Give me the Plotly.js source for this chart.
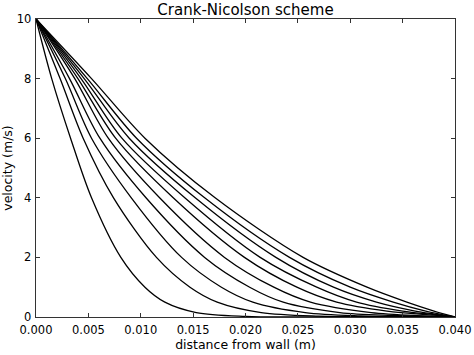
<!DOCTYPE html>
<html>
<head>
<meta charset="utf-8">
<script src="https://cdn.plot.ly/plotly-3.0.1.min.js"></script>
<style>html,body{margin:0;padding:0;background:#fff;}#chart{width:474px;height:355px;}</style>
</head>
<body>
<div id="chart"></div>
<script>
// velocity profiles (m/s) vs distance from wall (m)
const d1 = [0.000, 0.0015, 0.0033, 0.0053, 0.0081, 0.0104, 0.0123, 0.0153, 0.0200, 0.0250, 0.0400];
const u1 = [10, 8, 6, 4, 2, 1, 0.5, 0.15, 0.02, 0.0, 0.0];
const d2 = [0.000, 0.0023, 0.0045, 0.0074, 0.0115, 0.0147, 0.0173, 0.0215, 0.0270, 0.0330, 0.0400];
const u2 = [10, 8, 6, 4, 2, 1, 0.5, 0.15, 0.03, 0.005, 0.0];
const d3 = [0.000, 0.0028, 0.0053, 0.0091, 0.0139, 0.0177, 0.0207, 0.0257, 0.0310, 0.0400];
const u3 = [10, 8, 6, 4, 2, 1, 0.5, 0.15, 0.04, 0.0];
const d4 = [0.000, 0.0032, 0.0061, 0.0105, 0.0161, 0.0204, 0.0236, 0.0290, 0.0340, 0.0400];
const u4 = [10, 8, 6, 4, 2, 1, 0.5, 0.15, 0.05, 0.0];
const d5 = [0.000, 0.0037, 0.0069, 0.0118, 0.0180, 0.0227, 0.0262, 0.0320, 0.0370, 0.0400];
const u5 = [10, 8, 6, 4, 2, 1, 0.5, 0.15, 0.04, 0.0];
const d6 = [0.000, 0.0040, 0.0076, 0.0131, 0.0199, 0.0249, 0.0287, 0.0335, 0.0380, 0.0400];
const u6 = [10, 8, 6, 4, 2, 1, 0.5, 0.2, 0.06, 0.0];
const d7 = [0.000, 0.0043, 0.0082, 0.0142, 0.0214, 0.0268, 0.0306, 0.0350, 0.0380, 0.0400];
const u7 = [10, 8, 6, 4, 2, 1, 0.5, 0.2, 0.08, 0.0];
const d8 = [0.000, 0.0046, 0.0089, 0.0152, 0.0229, 0.0284, 0.0325, 0.0362, 0.0380, 0.0400];
const u8 = [10, 8, 6, 4, 2, 1, 0.5, 0.2, 0.1, 0.0];
const d9 = [0.000, 0.0049, 0.0096, 0.0161, 0.0242, 0.0300, 0.0341, 0.0372, 0.0400];
const u9 = [10, 8, 6, 4, 2, 1, 0.5, 0.2, 0.0];
const d10 = [0.000, 0.0053, 0.0104, 0.0171, 0.0255, 0.0316, 0.0354, 0.0380, 0.0400];
const u10 = [10, 8, 6, 4, 2, 1, 0.5, 0.2, 0.0];

const xTicks = [0.000, 0.005, 0.010, 0.015, 0.020, 0.025, 0.030, 0.035, 0.040];
const xTickText = ["0.000", "0.005", "0.010", "0.015", "0.020", "0.025", "0.030", "0.035", "0.040"];
const yTicks = [0, 2, 4, 6, 8, 10];

const profiles = [[d1,u1],[d2,u2],[d3,u3],[d4,u4],[d5,u5],[d6,u6],[d7,u7],[d8,u8],[d9,u9],[d10,u10]];
const traces = profiles.map(p => ({
  x: p[0], y: p[1], type: 'scatter', mode: 'lines',
  line: {color: '#000', width: 1.3, shape: 'spline', smoothing: 0.9},
  hoverinfo: 'skip', showlegend: false
}));

const font = "DejaVu Sans, sans-serif";
const axisCommon = {
  showgrid: false, zeroline: false, showline: true, mirror: 'ticks',
  linecolor: '#333', linewidth: 1.3, ticks: 'inside', ticklen: 4, tickwidth: 1,
  tickcolor: '#333', tickfont: {family: font, size: 11.5, color: '#000'}
};
const layout = {
  width: 474, height: 355,
  margin: {l: 36, r: 19, t: 19, b: 38},
  paper_bgcolor: '#fff', plot_bgcolor: '#fff',
  font: {family: font, color: '#000'},
  title: {text: 'Crank-Nicolson scheme', font: {family: font, size: 15, color: '#000'},
          x: 0.518, xanchor: 'center', y: 0.972, yanchor: 'middle'},
  xaxis: Object.assign({}, axisCommon, {
    range: [0, 0.04], tickvals: xTicks, ticktext: xTickText, ticklabelstandoff: 2,
    title: {text: 'distance from wall (m)', font: {family: font, size: 12.5, color: '#000'}, standoff: 3}
  }),
  yaxis: Object.assign({}, axisCommon, {
    range: [0, 10], tickvals: yTicks, ticklabelstandoff: 1,
    title: {text: 'velocity (m/s)', font: {family: font, size: 12.5, color: '#000'}, standoff: 5}
  })
};
Plotly.newPlot('chart', traces, layout, {staticPlot: true, displayModeBar: false});
</script>
</body>
</html>
